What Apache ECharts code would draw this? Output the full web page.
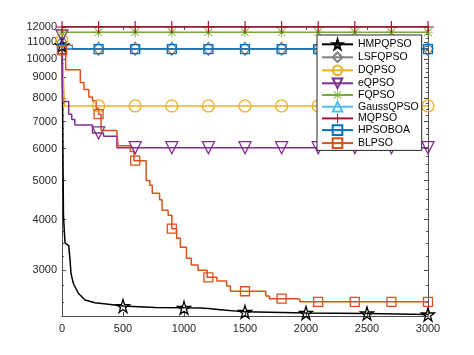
<!DOCTYPE html>
<html><head><meta charset="utf-8">
<script src="https://cdn.jsdelivr.net/npm/echarts@6/dist/echarts.min.js"></script>
<style>html,body{margin:0;padding:0;background:#fff}#c{width:474px;height:355px}</style>
</head><body><div id="c"></div>
<script>
// ---- data ----
const seriesNames = ['HMPQPSO','LSFQPSO','DQPSO','eQPSO','FQPSO','GaussQPSO','MQPSO','HPSOBOA','BLPSO'];
const xTicks = [0,500,1000,1500,2000,2500,3000];
const yTicks = [3000,4000,5000,6000,7000,8000,9000,10000,11000,12000];
const yMinorTicks = [2500,2750,3250,3500,3750,4250,4500,4750,5250,5500,5750,6250,6500,6750,7250,7500,7750,8250,8500,8750,9250,9500,9750,10250,10500,10750,11250,11500,11750];

const itHMPQPSO = [0,3,6,9,12,20,25,55,66,74,93,134,189,270,380,500,762,1000,1130,1200,1300,1500,2000,2500,3000];
const vHMPQPSO  = [10800,9000,7000,5200,4100,3700,3500,3450,3180,2940,2780,2630,2530,2490,2470,2445,2425,2420,2418,2410,2395,2365,2351,2343,2330];

const itLSFQPSO = [0,2,65,85,3000];
const vLSFQPSO  = [11000,10830,10830,10600,10580];

const itDQPSO = [0,10,20,3000];
const vDQPSO  = [11100,9400,7650,7650];

const iteQPSO = [0,4,55,80,105,250,340,450,3000];
const veQPSO  = [11400,7850,7300,7080,6860,6560,6440,6030,6030];

const itFQPSO = [0,3000];
const vFQPSO  = [11650,11650];

const itGaussQPSO = [0,3000];
const vGaussQPSO  = [12300,12300];

const itMQPSO = [0,3000];
const vMQPSO  = [12000,12000];

const itHPSOBOA = [0,3000];
const vHPSOBOA  = [10580,10580];

const itBLPSO = [0,30,150,180,220,250,280,300,320,450,460,560,590,690,720,740,800,820,870,900,940,970,1020,1060,1115,1190,1270,1350,1380,1670,1700,1920,1950,3000];
const vBLPSO  = [10500,9400,8750,8400,8050,7880,7550,7300,6650,6500,6100,5900,5600,5000,4870,4650,4480,4220,4100,3800,3600,3420,3210,3090,3000,2880,2820,2740,2660,2590,2550,2540,2505,2505];

// ---- styles ----
const starPath = 'path://M50,0 L61,35 L98,35 L68,57 L79,91 L50,70 L21,91 L32,57 L2,35 L39,35 Z';
const plusPath = 'path://M45,0H55V45H100V55H55V100H45V55H0V45H45Z';
const asterPath = 'path://M46,0H54V46H100V54H54V100H46V54H0V46H46Z M15,9 L50,44 L85,9 L91,15 L56,50 L91,85 L85,91 L50,56 L15,91 L9,85 L44,50 L9,15 Z';
const styles = {
  HMPQPSO:  {c:'#000000', sym:starPath, size:13, filled:false, stepMark:500, step:false},
  LSFQPSO:  {c:'#808080', sym:'diamond', size:[10,13], filled:false, stepMark:300, step:true},
  DQPSO:    {c:'#EDB120', sym:'circle', size:12, filled:false, stepMark:300, step:true},
  eQPSO:    {c:'#7E2F8E', sym:'triangle', size:12, rot:180, filled:false, stepMark:300, step:true},
  FQPSO:    {c:'#77AC30', sym:asterPath, size:10, filled:true, stepMark:300, step:true},
  GaussQPSO:{c:'#4DBEEE', sym:'triangle', size:12, filled:false, stepMark:300, step:true},
  MQPSO:    {c:'#A2142F', sym:plusPath, size:12, filled:true, stepMark:300, step:true},
  HPSOBOA:  {c:'#0072BD', sym:'rect', size:9, filled:false, stepMark:300, step:true},
  BLPSO:    {c:'#D95319', sym:'rect', size:9, filled:false, stepMark:300, step:true}
};
const dataMap = {
  HMPQPSO:[itHMPQPSO,vHMPQPSO], LSFQPSO:[itLSFQPSO,vLSFQPSO], DQPSO:[itDQPSO,vDQPSO],
  eQPSO:[iteQPSO,veQPSO], FQPSO:[itFQPSO,vFQPSO], GaussQPSO:[itGaussQPSO,vGaussQPSO],
  MQPSO:[itMQPSO,vMQPSO], HPSOBOA:[itHPSOBOA,vHPSOBOA], BLPSO:[itBLPSO,vBLPSO]
};

function build(it, v, stepMark, isStep) {
  const pts = it.map((x,i)=>({x:x, y:v[i]}));
  const have = new Set(it);
  if (isStep) {
    for (let m = 0; m <= 3000; m += stepMark) {
      if (!have.has(m)) {
        let k = 0;
        for (let i = 0; i < it.length; i++) if (it[i] <= m) k = i;
        pts.push({x:m, y:v[k]});
      }
    }
  }
  pts.sort((a,b)=>a.x-b.x);
  return pts.map(p => {
    const item = {value:[p.x, p.y]};
    if (p.x % stepMark !== 0) item.symbol = 'none';
    return item;
  });
}

const FONT = 'Liberation Sans, Arial, Helvetica, sans-serif';
const axisColor = '#4d4d4d';
const plain = v => String(Math.round(v));

const series = seriesNames.map(n => {
  const s = styles[n];
  const d = dataMap[n];
  return {
    name: n, type: 'line',
    data: build(d[0], d[1], s.stepMark, s.step),
    step: s.step ? 'end' : false,
    symbol: s.sym, symbolSize: s.size, symbolRotate: s.rot || 0,
    showAllSymbol: true, clip: true,
    lineStyle: {color: s.c, width: 1.5},
    itemStyle: s.filled ? {color: s.c, borderWidth: 0} : {color: 'none', borderColor: s.c, borderWidth: 1.3},
    emphasis: {disabled: true},
    animation: false
  };
});

const yBase = {type:'log', min:2310, max:12069, logBase:10, splitLine:{show:false}};
const lineOn = {show:true, onZero:false, lineStyle:{color:axisColor, width:1}};
const lineOff = {show:false, onZero:false};
const chart = echarts.init(document.getElementById('c'), null, {renderer:'canvas'});
chart.setOption({
  animation: false,
  backgroundColor: '#ffffff',
  grid: {left:62, right:46, top:26, bottom:39, containLabel:false, outerBoundsMode:'none'},
  legend: {
    data: seriesNames, orient:'vertical', left:317, top:35,
    itemWidth:31, itemHeight:12, itemGap:-1.6, padding:[2,3,0,4],
    borderColor:'#262626', borderWidth:1, backgroundColor:'#ffffff',
    textStyle:{fontSize:10.5, lineHeight:12, color:'#000', fontFamily:FONT}
  },
  xAxis: [
    {type:'value', min:0, max:3000, interval:500, position:'bottom',
     axisLine:lineOn,
     axisTick:{show:true, inside:true, length:4, lineStyle:{color:axisColor}},
     axisLabel:{color:'#262626', fontSize:11, fontFamily:FONT, margin:7, formatter:plain},
     splitLine:{show:false}},
    {type:'value', min:0, max:3000, interval:500, position:'top',
     axisLine:lineOn,
     axisTick:{show:true, inside:true, length:4, lineStyle:{color:axisColor}},
     axisLabel:{show:false}, splitLine:{show:false}}
  ],
  yAxis: [
    Object.assign({}, yBase, {position:'left',
      axisLine:lineOn,
      axisTick:{show:true, inside:true, length:4, customValues:yTicks, lineStyle:{color:axisColor}},
      axisLabel:{color:'#262626', fontSize:11, fontFamily:FONT, margin:5, customValues:yTicks, formatter:plain}}),
    Object.assign({}, yBase, {position:'right',
      axisLine:lineOn,
      axisTick:{show:true, inside:true, length:4, customValues:yTicks, lineStyle:{color:axisColor}},
      axisLabel:{show:false}}),
    Object.assign({}, yBase, {position:'left',
      axisLine:lineOff,
      axisTick:{show:true, inside:true, length:2, customValues:yMinorTicks, lineStyle:{color:axisColor}},
      axisLabel:{show:false}}),
    Object.assign({}, yBase, {position:'right',
      axisLine:lineOff,
      axisTick:{show:true, inside:true, length:2, customValues:yMinorTicks, lineStyle:{color:axisColor}},
      axisLabel:{show:false}})
  ],
  series: series
});
</script></body></html>
